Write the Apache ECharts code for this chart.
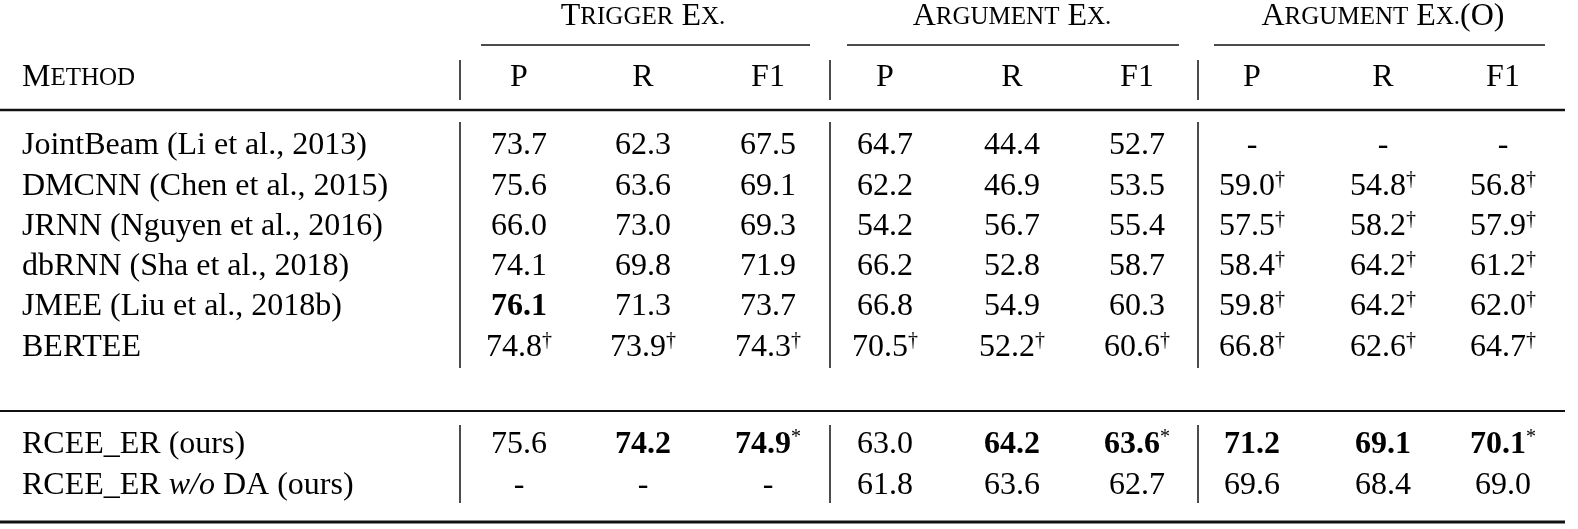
<!DOCTYPE html>
<html>
<head>
<meta charset="utf-8">
<script src="https://cdn.jsdelivr.net/npm/echarts@6/dist/echarts.min.js"></script>
<style>html,body{margin:0;background:#fff}#main{width:1578px;height:529px}</style>
</head>
<body>
<div id="main"></div>
<script>
// table data
const groups = ['Trigger Ex.', 'Argument Ex.', 'Argument Ex.(O)'];
const subCols = ['P', 'R', 'F1'];
const methods = ['JointBeam', 'DMCNN', 'JRNN', 'dbRNN', 'JMEE', 'BERTEE'];
const cites = [['Li et al.', '2013'], ['Chen et al.', '2015'], ['Nguyen et al.', '2016'],
  ['Sha et al.', '2018'], ['Liu et al.', '2018b'], null];
// "b:" = bold, "†"/"*" = superscript
const baseRows = [
  ['73.7', '62.3', '67.5', '64.7', '44.4', '52.7', '-', '-', '-'],
  ['75.6', '63.6', '69.1', '62.2', '46.9', '53.5', '59.0†', '54.8†', '56.8†'],
  ['66.0', '73.0', '69.3', '54.2', '56.7', '55.4', '57.5†', '58.2†', '57.9†'],
  ['74.1', '69.8', '71.9', '66.2', '52.8', '58.7', '58.4†', '64.2†', '61.2†'],
  ['b:76.1', '71.3', '73.7', '66.8', '54.9', '60.3', '59.8†', '64.2†', '62.0†'],
  ['74.8†', '73.9†', '74.3†', '70.5†', '52.2†', '60.6†', '66.8†', '62.6†', '64.7†']
];
const oursRows = [
  ['75.6', 'b:74.2', 'b:74.9*', '63.0', 'b:64.2', 'b:63.6*', 'b:71.2', 'b:69.1', 'b:70.1*'],
  ['-', '-', '-', '61.8', '63.6', '62.7', '69.6', '68.4', '69.0']
];

const FONT = '"Liberation Serif", "DejaVu Serif", serif';
const colX = [519, 643, 768, 885, 1012, 1137, 1252, 1383, 1503];
const seps = [460, 830, 1198];
const baseY = [146, 187, 227, 267, 307, 348];
const oursY = [445, 486];

const rich = {
  n: { fontFamily: FONT, fontSize: 32, color: '#111' },
  b: { fontFamily: FONT, fontSize: 32, color: '#111', fontWeight: 'bold' },
  c: { fontFamily: FONT, fontSize: 32, color: '#22229a' },
  i: { fontFamily: FONT, fontSize: 32, color: '#111', fontStyle: 'italic' },
  s: { fontFamily: FONT, fontSize: 20, color: '#111', verticalAlign: 'top', padding: [0, 0, 14, 0] },
  sc: { fontFamily: FONT, fontSize: 25, color: '#111' }
};

function smallCaps(str) {
  let out = '';
  for (const ch of str) {
    if (/[a-z.]/.test(ch)) out += '{sc|' + ch.toUpperCase() + '}';
    else out += '{n|' + ch + '}';
  }
  return out;
}
function cell(v) {
  let style = 'n';
  if (v.startsWith('b:')) { style = 'b'; v = v.slice(2); }
  const m = v.match(/^(.*?)([†*]?)$/);
  return '{' + style + '|' + m[1] + '}' + (m[2] ? '{s|' + m[2] + '}' : '');
}
function text(x, y, t, align) {
  return { type: 'text', x: x, y: y, style: { text: t, rich: rich, align: align || 'center', verticalAlign: 'middle' } };
}
function line(x1, y1, x2, y2, w) {
  return { type: 'line', shape: { x1: x1, y1: y1, x2: x2, y2: y2 }, style: { stroke: '#111', lineWidth: w || 1.5 } };
}

const els = [];
groups.forEach((g, i) => {
  els.push(text(colX[i * 3 + 1], 17, smallCaps(g)));
  els.push(line(colX[i * 3] - 38, 45, colX[i * 3 + 2] + 42, 45));
});
els.push(text(22, 78, smallCaps('Method'), 'left'));
colX.forEach((x, i) => els.push(text(x, 78, '{n|' + subCols[i % 3] + '}')));
els.push(line(0, 110, 1565, 110, 2.5));
els.push(line(0, 411, 1565, 411, 2));
els.push(line(0, 522, 1565, 522, 3));
seps.forEach(x => {
  els.push(line(x, 60, x, 100));
  els.push(line(x, 122, x, 368));
  els.push(line(x, 425, x, 503));
});
methods.forEach((m, r) => {
  const c = cites[r];
  const label = c ? '{n|' + m + ' (}{c|' + c[0] + '}{n|, }{c|' + c[1] + '}{n|)}' : '{n|' + m + '}';
  els.push(text(22, baseY[r], label, 'left'));
  baseRows[r].forEach((v, k) => els.push(text(colX[k], baseY[r], cell(v))));
});
const oursNames = ['{n|RCEE_ER (ours)}', '{n|RCEE_ER }{i|w/o}{n| DA (ours)}'];
oursNames.forEach((nm, r) => {
  els.push(text(22, oursY[r], nm, 'left'));
  oursRows[r].forEach((v, k) => els.push(text(colX[k], oursY[r], cell(v))));
});

const chart = echarts.init(document.getElementById('main'));
chart.setOption({ backgroundColor: '#fff', graphic: { elements: els } });
</script>
</body>
</html>
